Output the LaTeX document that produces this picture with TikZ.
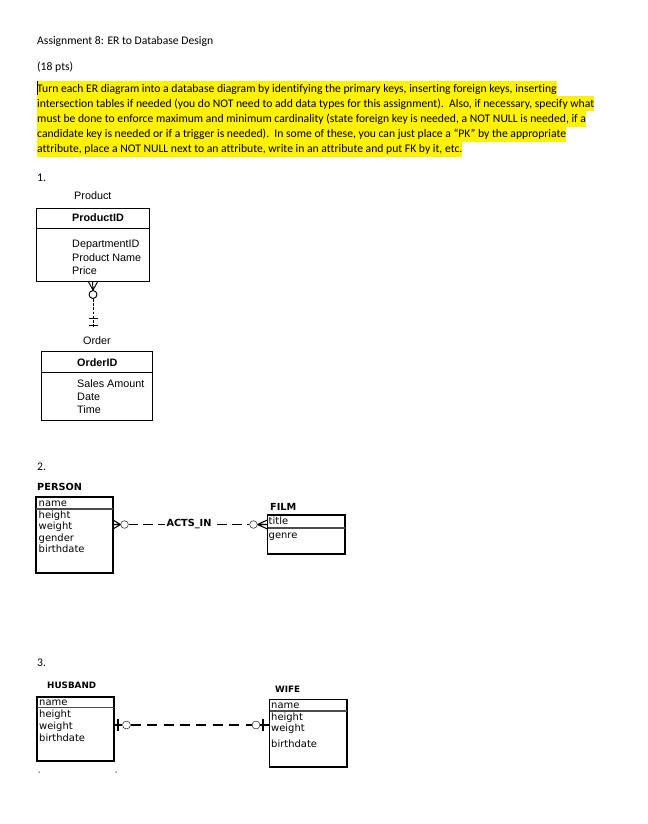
\documentclass[tikz,border=0pt]{standalone}
\usepackage{fontspec}
\setmainfont{Carlito}[Ligatures={NoCommon}]
\newfontfamily\arialfam{Liberation Sans}
\newfontfamily\verdfam{DejaVu Sans}
\usetikzlibrary{fit}

\begin{document}
\begin{tikzpicture}[x=0.9444pt, y=-0.9444pt,
    body/.style={anchor=base west, inner sep=0pt, font=\fontsize{11}{13}\selectfont},
    hl/.style={body, fill=yellow, text height=10.4pt, text depth=3.9pt},
    ebox/.style={draw, inner sep=0pt, line width=0.7pt},
    tbox/.style={draw, inner sep=0pt, line width=1pt},
    ar/.style={anchor=base west, inner sep=0pt, font=\arialfam\fontsize{10.2}{12}\selectfont},
    vd/.style={anchor=base west, inner sep=0pt, font=\verdfam\fontsize{9.4}{11}\selectfont},
    vdb/.style={anchor=base west, inner sep=0pt, font=\verdfam\bfseries\fontsize{9.2}{11}\selectfont},
    ring/.style={circle, draw, inner sep=0pt, minimum size=7.5pt, fill=white}]
  \useasboundingbox (0,0) rectangle (648,824);

  % heading and task text
  \node[body] (title) at (37,44) {Assignment 8: ER to Database Design};
  \node[body] (pts) at (37,70) {(18 pts)};
  \node[hl] (l1) at (37,92) {Turn each ER diagram into a database diagram by identifying the primary keys, inserting foreign keys, inserting};
  \node[hl] (l2) at (37,107.2) {intersection tables if needed (you do NOT need to add data types for this assignment).\ \ Also, if necessary, specify what};
  \node[hl] (l3) at (37,122.4) {must be done to enforce maximum and minimum cardinality (state foreign key is needed, a NOT NULL is needed, if a};
  \node[hl] (l4) at (37,137.6) {candidate key is needed or if a trigger is needed).\ \ In some of these, you can just place a “PK” by the appropriate};
  \node[hl] (l5) at (37,152.8) {attribute, place a NOT NULL next to an attribute, write in an attribute and put FK by it, etc.};
  \draw[line width=0.5pt] (37.5,81) -- (37.5,95);

  % 1.
  \node[body] (n1) at (37,181) {1.};
  \node[ar] (lprod) at (74,199) {Product};
  \node[ebox, fit={(36,208) (149,281)}] (product) {};
  \draw[line width=0.7pt] (36,228) -- (149,228);
  \node[ar, font=\arialfam\bfseries\fontsize{10.2}{12}\selectfont] at (72,221) {ProductID};
  \node[ar] at (72,247) {DepartmentID};
  \node[ar] at (72,261) {Product Name};
  \node[ar] at (72,274) {Price};

  \node[ring, line width=0.9pt] (c0) at (93,294.5) {};
  \draw[line width=0.9pt] (c0.north) -- (88,281) (c0.north) -- (product.south) (c0.north) -- (98,281);
  \coordinate (oend) at (93,328);
  \draw[line width=0.9pt, dash pattern=on 2.5pt off 1.5pt] (c0.south) -- (oend);
  \draw[line width=0.9pt] (88.5,318) -- (97.5,318) (88.5,325.5) -- (97.5,325.5);

  \node[ar] (lord) at (83,344) {Order};
  \node[ebox, fit={(41,351) (152,420)}] (order) {};
  \draw[line width=0.7pt] (41,372.5) -- (152,372.5);
  \node[ar, font=\arialfam\bfseries\fontsize{10.2}{12}\selectfont] at (77,366) {OrderID};
  \node[ar] at (77,387) {Sales Amount};
  \node[ar] at (77,400) {Date};
  \node[ar] at (77,413) {Time};

  % 2.
  \node[body] (n2) at (37,470) {2.};
  \node[vdb] (lperson) at (37,490) {PERSON};
  \node[tbox, fit={(36,497) (113,573)}] (person) {};
  \draw[line width=1pt, black!70] (36,509) -- (113,509);
  \node[vd] at (38.5,506.5) {name};
  \node[vd] at (38.5,518) {height};
  \node[vd] at (38.5,529.5) {weight};
  \node[vd] at (38.5,541) {gender};
  \node[vd] at (38.5,552.5) {birthdate};

  \node[vdb] (lfilm) at (270,510) {FILM};
  \node[tbox, fit={(267.5,515) (345,554)}] (film) {};
  \draw[line width=1pt, black!70] (267.5,528) -- (345,528);
  \node[vd] at (268.5,524.5) {title};
  \node[vd] at (268.5,538) {genre};

  \node[ring, minimum size=7.2pt] (c1) at (124.5,524.5) {};
  \node[ring, minimum size=7.2pt] (c2) at (253.5,524.5) {};
  \draw[line width=1pt] (c1.west) -- (113,520) (c1.west) -- (113,524.5) (c1.west) -- (113,529);
  \draw[line width=1pt] (c2.east) -- (267.5,520) (c2.east) -- (267.5,524.5) (c2.east) -- (267.5,529);
  \draw[line width=1pt, dash pattern=on 9pt off 5pt] (c1) -- node[vdb, anchor=center, fill=white, inner xsep=1pt] (acts) {ACTS\_IN} (c2);

  % 3.
  \node[body] (n3) at (37,666) {3.};
  \node[vdb, font=\verdfam\bfseries\fontsize{8.3}{10}\selectfont] (lhus) at (47,688.5) {HUSBAND};
  \node[tbox, fit={(37,697) (114,761)}] (husband) {};
  \draw[line width=1pt, black!70] (37,707.5) -- (114,707.5);
  \node[vd] at (39,705.5) {name};
  \node[vd] at (39,717) {height};
  \node[vd] at (39,729) {weight};
  \node[vd] at (39,741.5) {birthdate};

  \node[vdb, font=\verdfam\bfseries\fontsize{8.3}{10}\selectfont] (lwife) at (275,692.5) {WIFE};
  \node[tbox, fit={(269.5,699.5) (347,767)}] (wife) {};
  \draw[line width=1pt, black!70] (269.5,711) -- (347,711);
  \node[vd] at (271,708.5) {name};
  \node[vd] at (271,720) {height};
  \node[vd] at (271,731.5) {weight};
  \node[vd] at (271,747.5) {birthdate};

  \node[ring] (c3) at (126.5,725) {};
  \node[ring] (c4) at (256,725) {};
  \draw[line width=1pt] (husband.east |- c3) -- (c3.west) (118,719) -- (118,731);
  \draw[line width=1pt] (c4.east) -- (wife.west |- c4) (263,719) -- (263,731);
  \draw[line width=1pt, dash pattern=on 9.5pt off 6pt] (c3) -- (c4);

  \fill (38.5,771.5) rectangle (39.5,772.5) (115.5,771.5) rectangle (116.5,772.5);
\end{tikzpicture}
\end{document}
